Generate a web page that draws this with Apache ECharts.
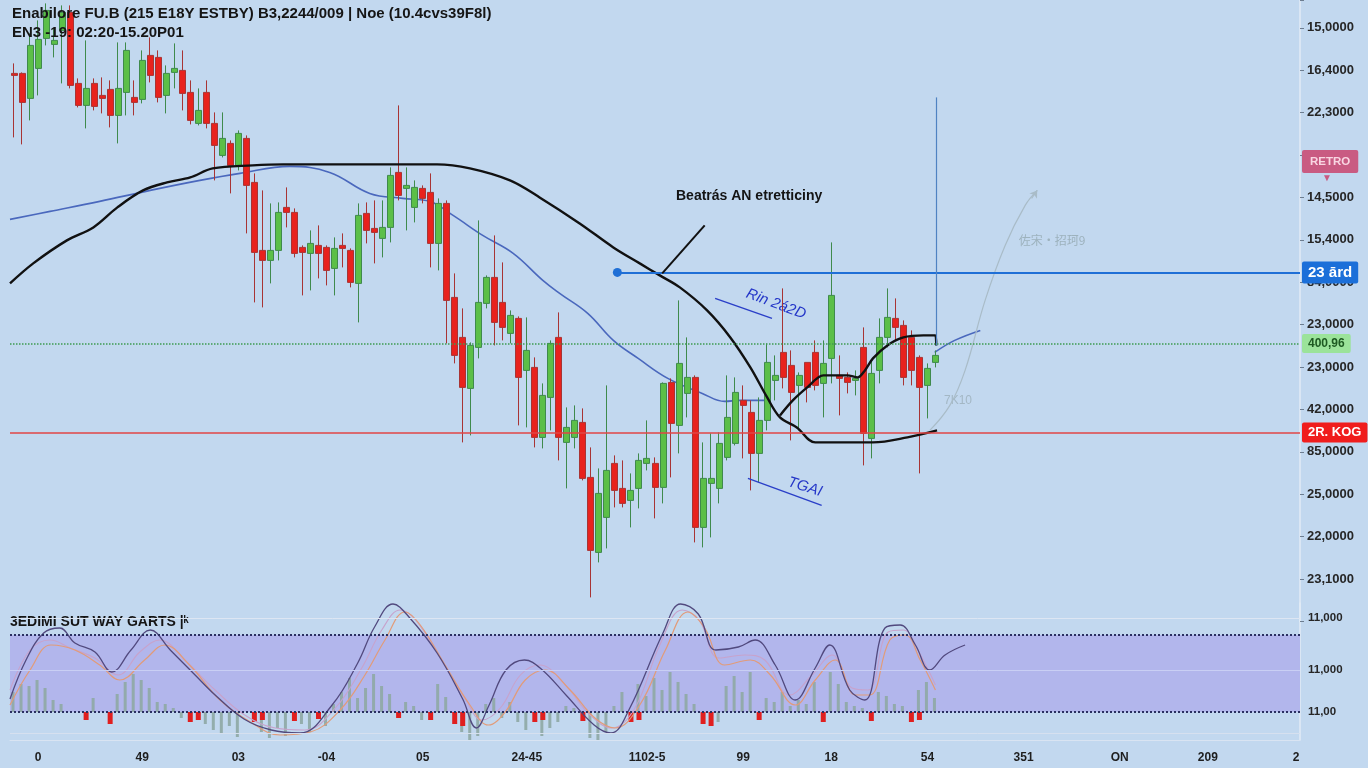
<!DOCTYPE html>
<html>
<head>
<meta charset="utf-8">
<title>chart</title>
<script src="https://cdn.jsdelivr.net/npm/echarts/dist/echarts.min.js"></script>
<style>
  html, body { margin: 0; padding: 0; background: #c2d8ef; }
  #chart { width: 1368px; height: 768px; }
</style>
</head>
<body>
<div id="chart"></div>
<script>
// candles: [open, close, low, high]
var candles = [
  [548,546,484,558],[548,519,477,549],[523,576,501,588],[553,582,526,601],[583,611,576,618],
  [577,581,564,593],[591,609,538,616],[609,536,533,616],[538,516,514,543],[516,533,493,581],
  [538,515,511,543],[526,523,508,544],[532,506,494,541],[506,533,478,579],[529,571,506,579],
  [524,519,506,541],[522,561,518,571],[566,546,539,584],[564,524,519,571],[526,548,508,556],
  [549,553,533,578],[551,528,511,571],[529,501,497,541],[498,511,496,533],[529,498,493,541],
  [498,476,441,509],[466,483,464,509],[478,456,428,481],[456,488,451,491],[483,436,388,486],
  [439,369,319,448],[371,361,314,431],[361,371,338,418],[371,409,361,419],[414,409,394,434],
  [409,368,364,413],[374,369,326,376],[368,378,331,391],[376,368,343,396],[374,351,336,376],
  [353,373,326,384],[376,373,354,388],[371,339,334,373],[338,406,299,418],[408,391,378,419],
  [393,389,358,421],[383,394,364,421],[394,446,379,454],[449,426,421,516],[433,436,391,454],
  [414,434,399,441],[433,423,418,436],[429,378,354,448],[378,418,351,423],[418,321,278,421],
  [324,266,258,348],[284,234,179,313],[233,276,186,279],[274,319,263,401],[318,344,313,346],
  [344,299,276,386],[319,294,281,359],[288,306,278,311],[303,244,196,305],[251,271,194,304],
  [254,184,174,264],[184,226,173,238],[224,278,191,281],[284,184,161,309],[179,194,133,214],
  [184,201,173,216],[199,143,141,213],[144,71,24,174],[69,128,59,153],[104,151,73,236],
  [158,131,114,166],[133,118,114,161],[121,131,94,148],[133,161,113,168],[158,163,151,201],
  [158,134,103,164],[134,238,118,239],[239,198,144,243],[196,258,168,321],[228,244,204,284],
  [244,94,79,246],[94,143,74,179],[138,143,84,188],[133,178,118,189],[164,204,161,246],
  [178,229,176,244],[221,216,163,236],[209,168,131,221],[168,201,139,224],[201,259,191,278],
  [241,246,221,266],[269,244,233,333],[256,229,181,271],[236,246,191,249],[259,234,219,259],
  [269,236,231,281],[238,258,204,281],[263,326,238,379],[246,243,206,266],[244,239,228,249],
  [241,243,226,251],[274,188,156,294],[183,248,163,261],[251,284,238,303],[284,304,274,333],
  [303,294,281,323],[296,244,236,301],[284,251,236,291],[264,234,148,266],[236,253,203,258],
  [259,266,254,271]
];

// moving lines: [position, price]
var blueMA = [[-0.5,402],[4.5,410],[10.7,420],[17,431],[23.2,441],[28.2,448],[34.4,455],[39.4,449],
  [44.4,428],[48.5,423],[51.9,420],[54.8,406],[58.5,386],[62.3,368],[66,341],[68.1,328],[71.6,308],
  [74.8,281],[77.9,263],[81.6,243],[85.9,228],[88.7,220],[90.6,221],[94.4,221],[94.5,null],
  [114.9,269],[117.4,281],[120.6,291]];
var blackMain = [[-0.5,338],[2.4,358],[6.6,381],[9.9,394],[12.9,414],[16.1,431],[19.1,439],[22,444],
  [24.8,453],[29.8,456],[33.6,457],[52.8,457],[56.9,453],[61.9,441],[65.6,424],[70.6,398],[74.8,374],
  [78.1,358],[80.6,346],[83.1,334],[86.5,311],[89.4,284],[91.9,254],[94,224],[95.6,204],[97.7,194],
  [100,179],[107.2,179],[111.5,184],[115.2,191]];
var blackUpper = [[95.6,206],[97.2,221],[99,234],[101,246],[104,246],[105.3,244],[106.2,251],
  [107.2,263],[109,276],[111,284],[113.5,286],[115,286],[115.1,276]];
var projection = [[114.3,191],[116.8,216],[118.7,251],[121.2,321],[123.7,376],[126.2,416],[127.7,431]];

// price levels
var levelBlue = 349, levelBlueStart = 75.3;
var levelGreen = 278;
var levelRed = 189;
var levelRetro = 455;
var levelLabels = ['23 ārd', '400,96', '2R. KOG', 'RETRO'];
var vertLine = [115.1, 524, 276];

// right axis tick labels, bottom to top
var priceLabels = ['23,1000','22,0000','25,0000','85,0000','42,0000','23,0000','23,0000',
  '84,0000','15,4000','14,5000','','22,3000','16,4000','15,0000'];

// lower panel oscillator
var oscDark = [[-0.5,13],[1.5,52],[3.7,79],[5.7,84],[7.6,69],[10.1,60],[12.2,40],[14.6,62],[17,82],
  [19.5,62],[22.6,37],[25.1,17],[28.7,-7],[32.1,-18],[35.7,-21],[39.7,7],[42.9,49],[45,85],[47.3,108],
  [49.4,94],[52.8,59],[56,13],[57.7,-16],[59.3,7],[61.4,42],[63.7,52],[65.8,43],[69,16],[72.4,-13],
  [74.5,-21],[76.8,3],[81,79],[83.2,108],[85.4,98],[87.6,62],[90.4,65],[92.5,72],[95,47],[97.5,12],
  [100,44],[101.8,67],[104.3,22],[106.2,12],[108.7,84],[110.6,87],[112.5,67],[114.3,42],[116.2,57],
  [118.7,67]];
var oscOrange = [[-0.5,7],[2,42],[4.6,67],[7.6,62],[10.7,47],[13.2,32],[16.3,52],[18.8,67],[21.9,47],
  [25.7,12],[29.5,-10],[33.2,-23],[37,-20],[40.7,2],[43.8,37],[46.3,72],[48.8,100],[50.7,87],[53.8,47],
  [56.9,7],[59.2,-13],[61.3,0],[63.8,32],[66.3,42],[69.4,22],[72.5,-6],[75,-16],[78.1,7],[81.3,62],
  [84.1,100],[86.2,84],[88.7,47],[91.9,52],[94.4,37],[97.5,7],[100,32],[102.5,52],[105,17],[106.8,17],
  [109.3,72],[111.2,77],[113.1,52],[115,22]];
var oscPink = [[-0.5,22],[2,62],[4.5,72],[7,64],[10.1,54],[13,37],[15.7,60],[18.2,72],[21.3,52],
  [25.1,22],[28.8,-3],[32.6,-16],[36.3,-18],[40.1,4],[43.4,44],[45.9,82],[48.2,102],[50.1,92],[53.2,54],
  [56.4,12],[58.4,-8],[60.7,4],[63.2,37],[65.6,47],[68.8,27],[71.9,-3],[74.6,-16],[77.5,4],[80.6,67],
  [83.4,102],[85.5,92],[88,54],[91.2,57],[93.7,52],[96.8,17],[99.6,37],[102.1,57],[104.6,24],[106.6,22],
  [109.1,80],[111,82],[112.8,62],[115,27]];
var histGray = [20,28,26,32,24,12,8,null,null,null,
  14,null,null,18,30,38,32,24,10,8,
  4,-6,null,null,-12,-18,-22,-14,-25,null,
  null,-20,-26,-16,-24,null,-12,-20,null,-14,
  8,20,34,14,24,38,26,18,null,10,
  6,-8,null,28,15,null,-20,-28,-24,8,
  14,-6,10,-10,-18,null,-24,-16,-10,6,
  4,null,-26,-28,-20,6,20,null,28,16,
  34,22,40,30,18,8,null,null,-10,26,
  36,20,40,null,14,10,20,6,12,8,
  30,null,40,28,10,6,4,null,20,16,
  8,6,null,22,30,14];
var histRed = [[9,-8],[12,-12],[22,-10],[23,-8],[30,-10],[31,-8],[35,-9],[38,-7],[48,-6],[52,-8],
  [55,-12],[56,-14],[65,-10],[66,-8],[71,-9],[77,-10],[78,-8],[86,-12],[87,-14],[93,-8],[101,-10],
  [107,-9],[112,-10],[113,-8]];
var oscBand = [0, 77];
var oscLevels = [94, 42, 0];
var oscLevelLabels = ['11,000', '11,000', '11,00'];
var oscFaint = [94, 42, -21];

// bottom axis labels
var xLabels = ['0','49','03','-04','05','24-45','1102-5','99','18','54','351','ON','209','2'];
var xLabelIdx = [3,16,28,39,51,64,79,91,102,114,126,138,149,160];

var nCats = 161;
var cats = [];
for (var i = 0; i < nCats; i++) cats.push(String(i));

var labelFont = '"Liberation Sans", Arial, sans-serif';

function badge(text, bg, fg, size) {
  return {
    show: true, position: 'end', distance: 2, formatter: text,
    backgroundColor: bg, color: fg, fontSize: size, fontWeight: 'bold',
    fontFamily: labelFont, padding: [4, 6, 3, 6], borderRadius: 2
  };
}

function levelLabel(text) {
  return { show: true, position: 'end', formatter: text, distance: 8, color: '#262626',
           fontSize: 11.5, fontWeight: 'bold', fontFamily: labelFont };
}

var chart = echarts.init(document.getElementById('chart'));
var option = {
  animation: false,
  backgroundColor: '#c2d8ef',
  title: {
    text: 'Enabilore FU.B (215 E18Y ESTBY) B3,2244/009 | Noe (10.4cvs39F8l)\nEN3 -19: 02:20-15.20P01',
    left: 7, top: -1,
    textStyle: { fontSize: 15, fontWeight: 'bold', color: '#151515', fontFamily: labelFont, lineHeight: 19 }
  },
  grid: [
    { left: 10, right: 68, top: 0, height: 621.4, outerBoundsMode: 'none' },
    { left: 10, right: 68, top: 603, bottom: 28, outerBoundsMode: 'none' }
  ],
  xAxis: [
    { type: 'category', data: cats, gridIndex: 0, show: false },
    { type: 'value', gridIndex: 0, min: -0.5, max: 160.5, show: false },
    { type: 'category', data: cats, gridIndex: 1,
      axisLine: { show: true, onZero: false, lineStyle: { color: '#d9e4f2' } },
      axisTick: { show: false },
      axisLabel: {
        interval: function (idx) { return xLabelIdx.indexOf(idx) >= 0; },
        formatter: function (val, idx) {
          var j = xLabelIdx.indexOf(idx);
          return j >= 0 ? xLabels[j] : '';
        },
        color: '#1e1e1e', fontSize: 12, fontWeight: 'bold', fontFamily: labelFont, margin: 12
      }
    },
    { type: 'value', gridIndex: 1, min: -0.5, max: 160.5, show: false }
  ],
  yAxis: [
    { type: 'value', gridIndex: 0, position: 'right', min: 0, max: 621.4, interval: 42.4,
      splitLine: { show: false },
      axisLine: { show: true, onZero: false, lineStyle: { color: '#e2ebf6', width: 1.5 } },
      axisTick: { show: true, length: 4, lineStyle: { color: '#6d7d90' } },
      axisLabel: {
        formatter: function (v) {
          var k = Math.round(v / 42.4);
          return (k >= 1 && k <= priceLabels.length) ? priceLabels[k - 1] : '';
        },
        color: '#262626', fontSize: 13, fontWeight: 'bold', fontFamily: labelFont, margin: 7
      }
    },
    { type: 'value', gridIndex: 1, position: 'right', min: -28, max: 109,
      splitLine: { show: false },
      axisLine: { show: true, onZero: false, lineStyle: { color: '#e2ebf6', width: 1.5 } },
      axisTick: { show: false }, axisLabel: { show: false }
    }
  ],
  graphic: [
    { type: 'text', x: 676, y: 196, style: { text: 'Beatrás AN etretticiny', font: 'bold 14px ' + labelFont,
      fill: '#141414', textVerticalAlign: 'middle' } },
    { type: 'text', x: 776, y: 304, rotation: -0.36, style: { text: 'Rin 2á2D', font: 'italic 15px ' + labelFont,
      fill: '#2436c8', textAlign: 'center', textVerticalAlign: 'middle' } },
    { type: 'text', x: 805, y: 487, rotation: -0.3, style: { text: 'TGAI', font: 'italic 15px ' + labelFont,
      fill: '#2436c8', textAlign: 'center', textVerticalAlign: 'middle' } },
    { type: 'text', x: 1052, y: 240, style: { text: '佐宋·招珂9', font: '12px "Noto Sans CJK SC", sans-serif',
      fill: '#9db2bd', textAlign: 'center', textVerticalAlign: 'middle' } },
    { type: 'text', x: 958, y: 401, style: { text: '7K10', font: '12px ' + labelFont,
      fill: '#a3b7c4', textAlign: 'center', textVerticalAlign: 'middle' } },
    { type: 'text', x: 10, y: 622, style: { text: '3EDIMI SUT WAY GARTS |ᵏ', font: 'bold 14px ' + labelFont,
      fill: '#151515', textVerticalAlign: 'middle' } }
  ],
  series: [
    { name: 'MA', type: 'line', xAxisIndex: 1, yAxisIndex: 0, data: blueMA, smooth: 0.4,
      showSymbol: false, connectNulls: false, z: 1,
      lineStyle: { color: '#4a68bd', width: 1.6 } },
    { name: 'Price', type: 'candlestick', xAxisIndex: 0, yAxisIndex: 0, data: candles, barWidth: 6.5, z: 2,
      itemStyle: { color: '#5cbf48', color0: '#e8221d', borderColor: '#3f8a4c', borderColor0: '#a83434', borderWidth: 1 } },
    { name: 'Band', type: 'line', xAxisIndex: 1, yAxisIndex: 0, data: blackMain, smooth: 0.35,
      showSymbol: false, z: 3, lineStyle: { color: '#111111', width: 2.4 } },
    { name: 'BandUp', type: 'line', xAxisIndex: 1, yAxisIndex: 0, data: blackUpper, smooth: 0.3,
      showSymbol: false, z: 3, lineStyle: { color: '#111111', width: 2.4 } },
    { name: 'Proj', type: 'line', xAxisIndex: 1, yAxisIndex: 0, data: projection, smooth: 0.4,
      showSymbol: false, z: 3, lineStyle: { color: '#a9bcc8', width: 1.2 } },
    { name: 'Levels', type: 'line', xAxisIndex: 1, yAxisIndex: 0, data: [[-0.5, null]], showSymbol: false, z: 5,
      markLine: {
        silent: true, symbol: ['none', 'none'],
        data: [
          [{ coord: [levelBlueStart, levelBlue], symbol: 'circle', symbolSize: 9,
             lineStyle: { color: '#1f6fd6', width: 2, type: 'solid' },
             label: badge(levelLabels[0], '#1b6fd9', '#ffffff', 15) },
           { coord: [160.5, levelBlue] }],
          [{ coord: [-0.5, levelGreen], lineStyle: { color: '#3e9a52', width: 1.5, type: 'dotted' },
             label: badge(levelLabels[1], '#9be39a', '#1e5a22', 12) },
           { coord: [160.5, levelGreen] }],
          [{ coord: [-0.5, levelRed], lineStyle: { color: '#e04646', width: 1.5, type: 'solid' },
             label: badge(levelLabels[2], '#f01d1d', '#ffffff', 13) },
           { coord: [160.5, levelRed] }],
          [{ coord: [150, levelRetro], lineStyle: { color: 'rgba(0,0,0,0)', width: 1 },
             label: {
               show: true, position: 'end', distance: 2,
               formatter: '{a|' + levelLabels[3] + '}\n{b|▼}',
               rich: {
                 a: { backgroundColor: '#c95b82', color: '#f9d6e2', fontSize: 11.5, fontWeight: 'bold',
                      fontFamily: labelFont, padding: [6, 8, 5, 8], borderRadius: 2 },
                 b: { color: '#c95b82', fontSize: 10, lineHeight: 10, padding: [0, 0, 0, 20] }
               }
             } },
           { coord: [160.5, levelRetro] }],
          [{ coord: [vertLine[0], vertLine[1]], lineStyle: { color: '#4f83c2', width: 1.2, type: 'solid' }, label: { show: false } },
           { coord: [vertLine[0], vertLine[2]] }],
          [{ coord: [86.2, 396], lineStyle: { color: '#111111', width: 2, type: 'solid' }, label: { show: false } },
           { coord: [80.9, 348] }],
          [{ coord: [87.5, 323], lineStyle: { color: '#2a3fc8', width: 1.4, type: 'solid' }, label: { show: false } },
           { coord: [94.6, 303] }],
          [{ coord: [91.6, 143], lineStyle: { color: '#2a3fc8', width: 1.4, type: 'solid' }, label: { show: false } },
           { coord: [100.8, 116] }],
          [{ coord: [127.0, 423], symbol: 'none', lineStyle: { color: '#a9bcc8', width: 1.2, type: 'solid' }, label: { show: false } },
           { coord: [127.7, 431], symbol: 'arrow', symbolSize: 7 }]
        ]
      }
    },
    { name: 'OscFrame', type: 'line', xAxisIndex: 3, yAxisIndex: 1, data: [[-0.5, null]], showSymbol: false, z: 1,
      markArea: { silent: true, itemStyle: { color: '#b2b6ec' },
        data: [[{ yAxis: oscBand[0] }, { yAxis: oscBand[1] }]] },
      markLine: {
        silent: true, symbol: ['none', 'none'],
        data: [
          { yAxis: oscFaint[0], lineStyle: { color: '#dde6f3', width: 1, type: 'solid' }, label: levelLabel(oscLevelLabels[0]) },
          { yAxis: oscFaint[1], lineStyle: { color: '#c9cff4', width: 1, type: 'solid' }, label: levelLabel(oscLevelLabels[1]) },
          { yAxis: oscFaint[2], lineStyle: { color: '#d6e0ef', width: 1, type: 'solid' }, label: { show: false } },
          { yAxis: oscBand[1], lineStyle: { color: '#2b3062', width: 2, type: 'dotted' }, label: { show: false } },
          { yAxis: oscLevels[2], lineStyle: { color: '#2b3062', width: 2, type: 'dotted' }, label: levelLabel(oscLevelLabels[2]) }
        ]
      }
    },
    { name: 'HistGray', type: 'bar', xAxisIndex: 2, yAxisIndex: 1, data: histGray, barWidth: 3, barGap: '-100%', z: 2,
      itemStyle: { color: '#8ea9a4', opacity: 0.9 } },
    { name: 'HistRed', type: 'bar', xAxisIndex: 2, yAxisIndex: 1, data: histRed, barWidth: 5, barGap: '-100%', z: 2,
      itemStyle: { color: '#e01f1f' } },
    { name: 'OscPink', type: 'line', xAxisIndex: 3, yAxisIndex: 1, data: oscPink, smooth: 0.4, showSymbol: false, z: 3,
      lineStyle: { color: '#c7a3cc', width: 1.1 } },
    { name: 'OscOrange', type: 'line', xAxisIndex: 3, yAxisIndex: 1, data: oscOrange, smooth: 0.4, showSymbol: false, z: 3,
      lineStyle: { color: '#e29b78', width: 1.2 } },
    { name: 'OscDark', type: 'line', xAxisIndex: 3, yAxisIndex: 1, data: oscDark, smooth: 0.4, showSymbol: false, z: 4,
      lineStyle: { color: '#51497e', width: 1.3 } }
  ]
};
chart.setOption(option);
</script>
</body>
</html>
